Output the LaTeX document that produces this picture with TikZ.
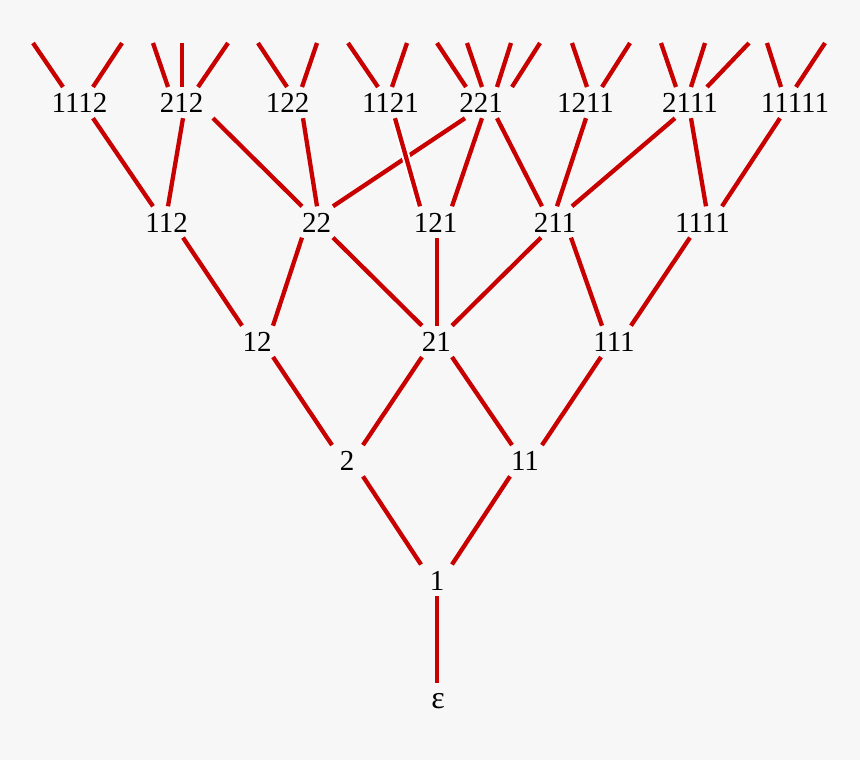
\documentclass[tikz,border=0pt]{standalone}
\usepackage{fontspec}
\setmainfont{Liberation Serif}
\usetikzlibrary{calc}
\definecolor{edgered}{RGB}{200,0,0}
\definecolor{bgcol}{RGB}{247,247,247}
\tikzset{
  lbl/.style={anchor=base, inner sep=0pt, text=black, font=\fontsize{29}{29}\selectfont},
  edge/.style={draw=edgered, line width=4.3pt},
  halo/.style={draw=white, line width=2pt, double=edgered, double distance=4.3pt}
}
\newcommand\ylink[5][]{\draw[edge,#1] ($(#2.base)+(#3,5.5)$) -- ($(#4.base)+(#5,-25.8)$);}
\newcommand\ystub[3]{\draw[edge] ($(#1.base)+(#2,-25.7)$) -- ($(#1.base)+(#3,-69.7)$);}
\begin{document}
\begin{tikzpicture}[x=1pt,y=-1pt]
\fill[bgcol] (0,0) rectangle (860,760);
\useasboundingbox (0,0) rectangle (860,760);
% rank 5
\node[lbl] (n1112)  at (79.5,112.7) {1112};
\node[lbl] (n212)   at (181.5,112.7) {212};
\node[lbl] (n122)   at (287.5,112.7) {122};
\node[lbl] (n1121)  at (390.5,112.7) {1121};
\node[lbl] (n221)   at (481,112.7) {221};
\node[lbl] (n1211)  at (585.5,112.7) {1211};
\node[lbl] (n2111)  at (690,112.7) {2111};
\node[lbl] (n11111) at (795,112.7) {11111};
% rank 4
\node[lbl] (n112)  at (166.7,232.1) {112};
\node[lbl] (n22)   at (316.7,232.1) {22};
\node[lbl] (n121)  at (435.5,232.1) {121};
\node[lbl] (n211)  at (555,232.1) {211};
\node[lbl] (n1111) at (702.5,232.1) {1111};
% rank 3
\node[lbl] (n12)  at (257,351.5) {12};
\node[lbl] (n21)  at (436.3,351.5) {21};
\node[lbl] (n111) at (614,351.5) {111};
% rank 2
\node[lbl] (n2)  at (347,470.9) {2};
\node[lbl] (n11) at (525,470.9) {11};
% rank 1, 0
\node[lbl] (n1) at (437,590.3) {1};
\node[lbl, font=\fontsize{32}{32}\selectfont] (ne) at (438,708) {ε};
% stubs to rank 6
\ystub{n1112}{-16.5}{-46.5}
\ystub{n1112}{13.5}{42.5}
\ystub{n212}{-13.5}{-28.5}
\ystub{n212}{0.5}{0.5}
\ystub{n212}{16.5}{46.5}
\ystub{n122}{-0.5}{-29.5}
\ystub{n122}{14.5}{29.5}
\ystub{n1121}{-12.5}{-42.5}
\ystub{n1121}{1.5}{16.5}
\ystub{n221}{-15}{-44}
\ystub{n221}{1}{-14}
\ystub{n221}{16}{30}
\ystub{n221}{31}{59}
\ystub{n1211}{1.5}{-13.5}
\ystub{n1211}{16.5}{44.5}
\ystub{n2111}{-14}{-29}
\ystub{n2111}{1}{15}
\ystub{n2111}{17}{59}
\ystub{n11111}{-14}{-28}
\ystub{n11111}{1}{30}
% rank 5 -> rank 4
\ylink{n1112}{13.5}{n112}{-13.7}
\ylink{n212}{1.5}{n112}{1.3}
\ylink{n212}{31.5}{n22}{-14.7}
\ylink{n122}{15.5}{n22}{0.3}
\ylink{n221}{-16}{n22}{16.3}
\ylink[halo]{n1121}{4.5}{n121}{-15.5}
\ylink{n221}{1}{n121}{16.5}
\ylink{n221}{16}{n211}{-13}
\ylink{n1211}{0.5}{n211}{2}
\ylink{n2111}{-15}{n211}{17}
\ylink{n2111}{1}{n1111}{3.5}
\ylink{n11111}{-15}{n1111}{19.5}
% rank 4 -> rank 3
\ylink{n112}{16.3}{n12}{-15}
\ylink{n22}{-14.7}{n12}{16}
\ylink{n22}{16.3}{n21}{-14.3}
\ylink{n121}{1.5}{n21}{0.7}
\ylink{n211}{-14}{n21}{15.7}
\ylink{n211}{16}{n111}{-12}
\ylink{n1111}{-12.5}{n111}{17}
% rank 3 -> rank 2
\ylink{n12}{16}{n2}{-15}
\ylink{n21}{-14.3}{n2}{16}
\ylink{n21}{15.7}{n11}{-13}
\ylink{n111}{-13}{n11}{17}
% rank 2 -> rank 1
\ylink{n2}{16}{n1}{-16}
\ylink{n11}{-15}{n1}{15}
% rank 1 -> rank 0
\draw[edge] ($(n1.base)+(0,5.5)$) -- ($(ne.base)+(-1,-25)$);
\end{tikzpicture}
\end{document}
